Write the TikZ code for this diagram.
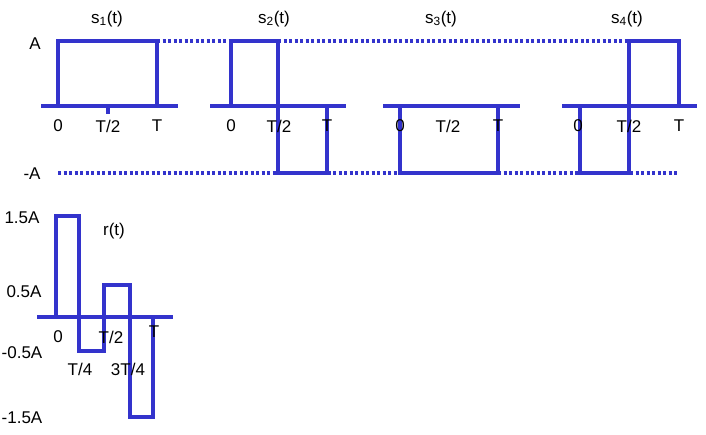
\documentclass[tikz,border=0pt]{standalone}
\usepackage{fontspec}
\setmainfont{Liberation Sans}
\begin{document}
\begin{tikzpicture}[x=1pt,y=-1pt,
  wave/.style={draw=wblue,line width=3.4pt},
  dots/.style={draw=wblue,line width=3.4pt,dash pattern=on 3pt off 2.5pt},
  lbl/.style={font=\fontsize{17}{19}\selectfont,inner sep=0pt}]
\definecolor{wblue}{HTML}{3333CC}
\useasboundingbox (0,0) rectangle (706,434);
% dotted levels
\draw[dots] (157,41) -- (628,41);
\draw[dots] (58,173) -- (678,173);
% s1
\draw[wave] (41,106) -- (178,106);
\draw[wave] (108,104) -- (108,114);
\draw[wave] (58,106) -- (58,41) -- (157,41) -- (157,106);
% s2
\draw[wave] (210,106) -- (346,106);
\draw[wave] (231,106) -- (231,41) -- (278,41) -- (278,173) -- (327,173) -- (327,106);
% s3
\draw[wave] (383,106) -- (520,106);
\draw[wave] (450,104) -- (450,108);
\draw[wave] (400,106) -- (400,173) -- (498,173) -- (498,106);
% s4
\draw[wave] (562,106) -- (697,106);
\draw[wave] (580,106) -- (580,173) -- (629,173) -- (629,41) -- (679,41) -- (679,106);
% labels top
\node[lbl] (ta) at (35,44) {A};
\node[lbl] (tma) at (32,174) {-A};
\node[lbl] (s1) at (107,19) {s\textsubscript{1}(t)};
\node[lbl] (s2) at (274,19) {s\textsubscript{2}(t)};
\node[lbl] (s3) at (441,19) {s\textsubscript{3}(t)};
\node[lbl] (s4) at (627,19) {s\textsubscript{4}(t)};
\foreach \z/\h/\t [count=\i] in {58/108/157,231/279/327,400/448/498,578/629/679}{
  \node[lbl] (z\i) at (\z,126) {0};
  \node[lbl] (h\i) at (\h,126) {T/2};
  \node[lbl] (t\i) at (\t,126) {T};
}
% r(t)
\draw[wave] (37,317) -- (173,317);
\draw[wave] (56,317) -- (56,216) -- (79,216) -- (79,351) -- (104,351) -- (104,285) -- (130,285) -- (130,417) -- (153,417) -- (153,317);
\node[lbl] (r) at (114,231) {r(t)};
\node[lbl] (l1) at (22,218) {1.5A};
\node[lbl] (l2) at (24,292) {0.5A};
\node[lbl] (l3) at (22,353) {-0.5A};
\node[lbl] (l4) at (22,418) {-1.5A};
\node[lbl] (b0) at (58,337) {0};
\node[lbl] (b2) at (111,337) {T/2};
\node[lbl] (bt) at (154,332) {T};
\node[lbl] (b4) at (80,369) {T/4};
\node[lbl] (b3) at (128,369) {3T/4};
\end{tikzpicture}
\end{document}
